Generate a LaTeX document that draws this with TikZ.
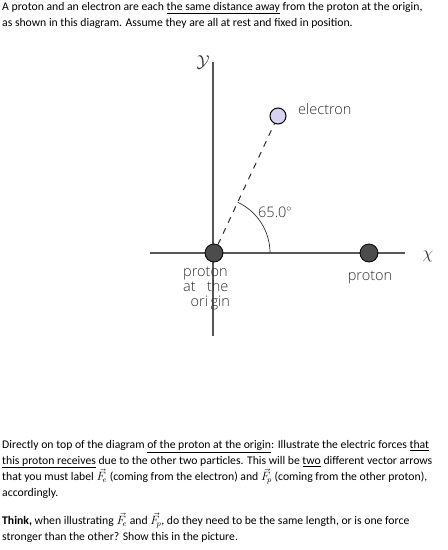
\documentclass[tikz,border=0pt]{standalone}
\usepackage{fontspec}
\setmainfont{Carlito}
\newfontfamily\handfont{Open Sans Light}
\usetikzlibrary{calc}
\definecolor{ink}{RGB}{45,45,45}
\definecolor{lav}{RGB}{215,210,240}
\newcommand{\vFe}{\smash{$\vec{F}_{\!e}$}}
\newcommand{\vFp}{\smash{$\vec{F}_{\!p}$}}
\tikzset{
  para/.style={anchor=north west, inner sep=0pt, align=left, font=\fontsize{11.7}{16}\selectfont},
  axis/.style={draw=ink!80, line width=1.2pt},
  hand/.style={font=\handfont\fontsize{14.5}{15}\selectfont, text=ink, inner sep=0pt},
  protonball/.style={circle, draw=black, line width=0.8pt, fill=ink!85, minimum size=18pt, inner sep=0pt},
  electronball/.style={circle, draw=black, line width=1pt, fill=lav, minimum size=16pt, inner sep=0pt}
}
\begin{document}
\begin{tikzpicture}[x=1pt,y=-1pt]
\useasboundingbox (0,0) rectangle (448,550);
\node[para] (top) at (2,2) {A proton and an electron are each \underline{the same distance away} from the proton at the origin,\\
as shown in this diagram. Assume they are all at rest and fixed in position.};
% axes
\coordinate (ytop) at (213,62);
\coordinate (ybot) at (213,336);
\coordinate (xl) at (150,253);
\coordinate (xr) at (405,253);
\draw[axis] (ybot) -- (ytop);
\draw[axis] (xl) -- (xr);
\node[hand, font=\fontsize{16}{16}\selectfont] (ylab) at (203,62) {$\mathcal{Y}$};
\node[hand, font=\fontsize{18}{18}\selectfont] (xlab) at (428,256) {$\chi$};
% particles
\node[protonball] (p0) at (214,253) {};
\node[protonball] (p1) at (369,253) {};
\node[electronball] (el) at (278,116) {};
\draw[ink, line width=1pt, dash pattern=on 6pt off 6pt] (p0) -- (el);
% angle arc
\draw[ink, line width=0.7pt] ($(214,253)+(-65:56)$) arc[start angle=-65, end angle=0, radius=56];
\node[hand, anchor=west] (ang) at (258,212) {65.0$^\circ$};
% labels
\node[hand, anchor=west] (elab) at (298,109) {electron};
\node[hand] (plab) at (370,277) {proton};
\node[hand, align=left, anchor=north west] (olab) at (183,267) {proton\\at\ \ \ the\\\ \ ori\,gin};
\node[para] (mid) at (2,440) {Directly on top of the diagram \underline{of the proton at the origin}: Illustrate the electric forces \underline{that}\\
\underline{this proton receives} due to the other two particles. This will be \underline{two} different vector arrows\\
that you must label \vFe{} (coming from the electron) and \vFp{} (coming from the other proton),\\
accordingly.};
\node[para] (think) at (2,516) {\textbf{Think,} when illustrating \vFe{} and \vFp, do they need to be the same length, or is one force\\
stronger than the other? Show this in the picture.};
\end{tikzpicture}
\end{document}
